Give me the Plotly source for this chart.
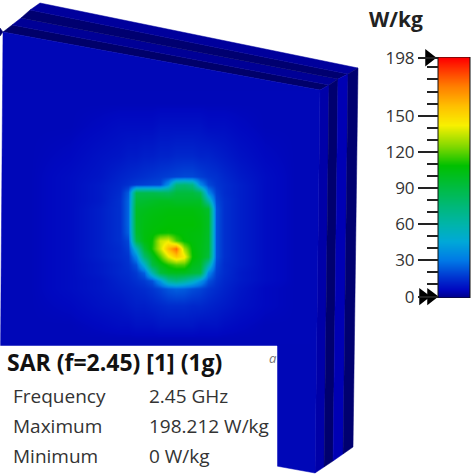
import plotly.graph_objects as go

field_x = [30,70,100,120,128,136,144,152,160,168,176,184,192,200,208,216,224,240,265,295]
field_y = [102,125,155,176,184,192,200,208,216,224,232,240,248,256,264,272,280,288,305,325,338]
sar = [
 [5,5,5,5,5,5,5,5,5,5,5,5,5,5,5,5,5,5,5,5],
 [5,5,6,7,7,7,7,7,8,8,8,8,8,8,7,7,7,6,5,5],
 [5,6,8,9,10,10,11,11,12,12,13,13,13,12,12,11,10,8,6,5],
 [5,7,9,12,13,14,15,16,17,18,19,20,20,18,16,15,13,10,7,5],
 [5,7,10,13,15,17,18,19,20,38,75,78,72,35,20,16,14,11,7,5],
 [5,7,10,14,24,88,88,88,86,84,92,92,92,85,35,18,14,11,7,5],
 [5,7,10,15,26,94,96,98,100,100,98,98,98,98,62,20,15,11,7,5],
 [5,7,11,15,26,99,101,103,104,105,105,105,105,103,96,22,15,11,7,5],
 [5,7,11,15,26,100,103,105,106,107,107,107,107,105,99,22,15,11,7,5],
 [5,7,11,15,26,99,104,106,107,108,108,108,108,106,99,22,15,11,7,5],
 [5,7,11,15,25,97,105,107,109,110,108,107,106,105,98,22,15,11,7,5],
 [5,7,11,15,20,90,105,110,135,140,118,108,106,104,97,22,15,11,7,5],
 [5,7,11,14,18,55,95,112,135,160,178,130,108,103,96,22,15,11,7,5],
 [5,7,11,14,16,35,78,100,118,140,155,145,110,103,92,22,15,11,7,5],
 [5,7,10,13,15,22,50,90,103,112,118,118,103,98,62,20,14,11,7,5],
 [5,7,10,13,14,17,25,60,92,100,101,100,95,90,35,18,14,10,7,5],
 [5,7,9,12,13,15,17,22,40,65,72,65,55,40,22,16,13,10,7,5],
 [5,7,9,11,12,13,14,16,19,23,25,24,21,19,16,14,12,9,6,5],
 [5,6,8,9,10,11,11,12,13,14,14,14,13,13,12,11,10,8,6,5],
 [5,5,6,7,7,8,8,8,9,9,9,9,9,8,8,8,7,6,5,5],
 [5,5,5,5,5,5,5,5,5,5,5,5,5,5,5,5,5,5,5,5],
]

# Colour legend
legend_values = [0,10,20,30,40,50,60,70,80,90,100,110,120,130,140,150,160,170,180,190,198]
major_ticks = [0,30,60,90,120,150,198]
minor_ticks = [10,20,40,50,70,80,100,110,130,140,160,170,180,190]
arrow_values = [198,0,0]
arrow_pos = [429,423,431]
color_stops = [
 [0,"#00008c"],[0.03,"#0008c0"],[0.08,"#0034d0"],[0.15,"#0078e6"],[0.23,"#00a8d8"],
 [0.30,"#00b4ac"],[0.38,"#00b878"],[0.46,"#00bc40"],[0.55,"#00c000"],[0.63,"#80d800"],
 [0.72,"#f8f000"],[0.80,"#ffc000"],[0.88,"#ff8000"],[1,"#ff0000"],
]

# Solid body outline as seen in the picture
front_x = [3,320,315,0]
front_y = [32,90,473,416]
top_layers_left_x  = [3,12,21,30,40]
top_layers_left_y  = [32,25,18,10,3]
top_layers_right_x = [320,329,338,348,358]
top_layers_right_y = [90,85,79,74,68]
side_layers_bottom_x = [315,324,333,343,353]
side_layers_bottom_y = [473,467,461,454,447]
top_colors = ["#00006a","#000096","#000070","#00009c"]
side_colors = ["#0000a8","#00006e","#0000b4","#000070"]
front_color = "#0007b7"

# Info panel
title_text = "SAR (f=2.45) [1] (1g)"
row_labels = ["Frequency","Maximum","Minimum"]
row_values = ["2.45 GHz","198.212 W/kg","0 W/kg"]
row_y = [396,426,456]
panel_x = [0,277,277,0]
panel_y = [346,346,476,476]

fig = go.Figure()

def poly(xs, ys, color):
    fig.add_trace(go.Scatter(x=xs+xs[:1], y=ys+ys[:1], mode="lines", fill="toself",
                             fillcolor=color, line=dict(color=color, width=0.5),
                             hoverinfo="skip", showlegend=False))

# sliver at far left
poly([0,3,0],[28,32,36],"#00006a")
for i in range(4):
    poly([top_layers_left_x[i],top_layers_left_x[i+1],top_layers_right_x[i+1],top_layers_right_x[i]],
         [top_layers_left_y[i],top_layers_left_y[i+1],top_layers_right_y[i+1],top_layers_right_y[i]],
         top_colors[i])
    poly([top_layers_right_x[i],top_layers_right_x[i+1],side_layers_bottom_x[i+1],side_layers_bottom_x[i]],
         [top_layers_right_y[i],top_layers_right_y[i+1],side_layers_bottom_y[i+1],side_layers_bottom_y[i]],
         side_colors[i])
poly(front_x, front_y, front_color)
poly(panel_x, panel_y, "#ffffff")

fig.add_trace(go.Heatmap(x=field_x, y=field_y, z=sar, zmin=0, zmax=198, zsmooth="best",
                         colorscale=color_stops, showscale=False, hoverinfo="skip",
                         xaxis="x3", yaxis="y3"))

bar_edges = [438,454,470]
fig.add_trace(go.Heatmap(x=bar_edges, y=legend_values, z=[[v,v] for v in legend_values],
                         zmin=0, zmax=198, zsmooth="best", colorscale=color_stops,
                         showscale=False, xaxis="x2", yaxis="y2", hoverinfo="skip"))
fig.add_trace(go.Scatter(x=[438,470,470,438,438], y=[-1.2,-1.2,198.6,198.6,-1.2], mode="lines",
                         line=dict(color="#111111", width=1), xaxis="x2", yaxis="y2",
                         cliponaxis=False, hoverinfo="skip", showlegend=False))
fig.add_trace(go.Scatter(x=arrow_pos, y=arrow_values, mode="markers", xaxis="x2", yaxis="y2",
                         marker=dict(symbol="triangle-right", size=15, color="#000000"),
                         cliponaxis=False, hoverinfo="skip", showlegend=False))

font = "Open Sans"
ann = [dict(x=5, y=362, text=f"<b>{title_text}</b>", xanchor="left", yanchor="middle", showarrow=False,
            font=dict(family=font, size=23, color="#111111"), xref="x", yref="y"),
       dict(x=273, y=358, text="<i>a</i>", showarrow=False, font=dict(family=font, size=13, color="#777777"),
            xref="x", yref="y"),
       dict(x=367, y=19, text="<b>W/kg</b>", xanchor="left", yanchor="middle", showarrow=False,
            font=dict(family=font, size=21, color="#222222"), xref="x", yref="y")]
for l, v, y in zip(row_labels, row_values, row_y):
    ann.append(dict(x=11, y=y, text=l, xanchor="left", yanchor="middle", showarrow=False,
                    font=dict(family=font, size=19, color="#333333"), xref="x", yref="y"))
    ann.append(dict(x=147, y=y, text=v, xanchor="left", yanchor="middle", showarrow=False,
                    font=dict(family=font, size=19, color="#333333"), xref="x", yref="y"))

fig.update_layout(
    template="none",
    width=474, height=476, margin=dict(l=0,r=0,t=0,b=0,pad=0), paper_bgcolor="#ffffff", plot_bgcolor="#ffffff",
    showlegend=False, annotations=ann,
    xaxis=dict(range=[0,474], visible=False, domain=[0,1], fixedrange=True, automargin=False),
    yaxis=dict(range=[476,0], visible=False, domain=[0,1], fixedrange=True, automargin=False),
    xaxis3=dict(range=[0,474], visible=False, overlaying="x", fixedrange=True, automargin=False),
    yaxis3=dict(range=[476,0], visible=False, overlaying="y", fixedrange=True, automargin=False),
    xaxis2=dict(range=[415,471], domain=[415/474,471/474], anchor="y2", visible=False, automargin=False),
    yaxis2=dict(range=[-1.2,198.6], domain=[178/476,419/476], anchor="free", position=438/474, side="left",
                tickmode="array", tickvals=major_ticks, ticks="outside", ticklen=20, tickwidth=1.5,
                tickcolor="#222222", showgrid=False, zeroline=False, showline=False,
                tickfont=dict(family=font, size=17, color="#333333"), automargin=False,
                minor=dict(tickmode="array", tickvals=minor_ticks, ticks="outside", ticklen=11,
                           tickwidth=1.5, tickcolor="#222222", showgrid=False)),
)
fig.write_html("out.html", config=dict(displayModeBar=False),
               post_script="document.body.style.margin='0';document.body.style.overflow='hidden';")
